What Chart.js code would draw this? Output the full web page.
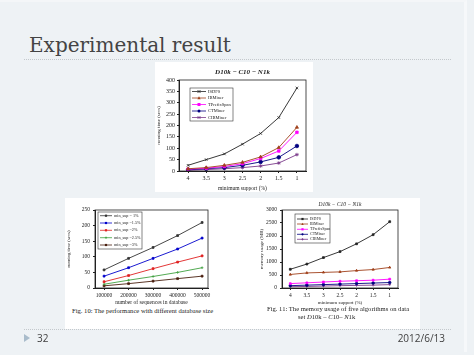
<!DOCTYPE html>
<html><head><meta charset="utf-8">
<script src="https://cdn.jsdelivr.net/npm/chart.js@4.4.1/dist/chart.umd.min.js"></script>
<style>
html,body{margin:0;padding:0}
body{width:474px;height:355px;background:#eef2f5;position:relative;overflow:hidden;font-family:'Liberation Serif',serif}
.abs{position:absolute}
#frame{left:0;top:0;width:467px;height:352px;border-top:2px solid #f4f6f8;border-right:3px solid #f6f8fa;box-sizing:border-box}
#title{left:29px;top:35px;font-family:'DejaVu Serif',serif;font-size:20px;line-height:20px;color:#444;white-space:nowrap}
.dots{height:0;border-top:1px dotted #c3c8cc}
.panel{background:#fff}
.cap{font-family:'Liberation Serif',serif;font-size:6.6px;line-height:7px;color:#222;white-space:nowrap}
.foot{font-family:'Open Sans','DejaVu Sans',sans-serif;font-size:10px;line-height:10px;color:#404040}
canvas{position:absolute}
</style></head><body>
<div id="frame" class="abs"></div>
<div id="title" class="abs">Experimental result</div>
<div class="abs dots" style="left:24px;top:59px;width:427px"></div>
<div class="abs panel" style="left:155px;top:62px;width:158px;height:130px"></div>
<div class="abs panel" style="left:65px;top:198px;width:355px;height:131px"></div>
<canvas id="c1" width="158" height="130" style="left:155px;top:62px"></canvas>
<canvas id="c2" width="160" height="108" style="left:65px;top:198px"></canvas>
<canvas id="c3" width="160" height="108" style="left:258px;top:198px"></canvas>
<div class="abs cap" style="left:72px;top:307px">Fig. 10: The performance with different database size</div>
<div class="abs cap" style="left:267px;top:305px">Fig. 11: The memory usage of five algorithms on data</div>
<div class="abs cap" style="left:298px;top:313px">set <i>D</i>10k &#8211; <i>C</i>10&#8211; <i>N</i>1k</div>
<div class="abs dots" style="left:24px;top:329px;width:427px"></div>
<div class="abs" style="left:24px;top:334px;width:0;height:0;border-top:4px solid transparent;border-bottom:4px solid transparent;border-left:6px solid #a9bccb"></div>
<div class="abs foot" style="left:37px;top:333px">32</div>
<div class="abs foot" style="left:380px;top:333px;width:65px;text-align:right">2012/6/13</div>
<script>
// ---- data ----
const algoNames = ['ISDFS','IBMiner','TPrefixSpan','CTMiner','CIBMiner'];
const supportLabels = ['4','3.5','3','2.5','2','1.5','1'];
const runISDFS = [25,50,75,118,165,235,365];
const runIBMiner = [10,15,25,38,62,103,192];
const runTPrefixSpan = [8,12,20,32,55,88,170];
const runCTMiner = [5,10,15,25,40,60,110];
const runCIBMiner = [3,6,10,15,22,35,72];

const dbSizes = [100000,200000,300000,400000,500000];
const minSupLabels = ['min_sup = 1%','min_sup =1.5%','min_sup =2%','min_sup =2.5%','min_sup =3%'];
const dbSup1 = [58,95,130,168,210];
const dbSup15 = [38,65,95,125,160];
const dbSup2 = [20,40,62,83,103];
const dbSup25 = [12,25,37,50,65];
const dbSup3 = [7,14,22,30,38];

const memISDFS = [720,920,1170,1400,1700,2050,2550];
const memIBMiner = [520,580,600,620,670,710,790];
const memTPrefixSpan = [170,200,230,260,280,300,340];
const memCTMiner = [90,110,130,150,170,190,210];
const memCIBMiner = [50,60,75,90,100,110,130];

const chartTitle = 'D10k \u2212 C10 \u2212 N1k';

// ---- styles ----
const FONT = "'Liberation Serif', serif";
const algoColors = ['#222222','#a0401a','#ff00ff','#000080','#7a3a8a'];
const algoPoints = ['crossRot','triangle','rect','circle','star'];
const supColors = ['#333333','#0000cc','#e02020','#40a040','#4a2010'];
const supPoints = ['rect','rect','rect','cross','rect'];

function drawMarker(ctx, style, x, y, r, color){
  ctx.save();
  ctx.strokeStyle = color; ctx.fillStyle = color; ctx.lineWidth = 0.8;
  ctx.beginPath();
  if(style==='circle'){ctx.arc(x,y,r,0,Math.PI*2);ctx.fill();}
  else if(style==='rect'){ctx.fillRect(x-r,y-r,2*r,2*r);}
  else if(style==='triangle'){ctx.moveTo(x,y-r*1.2);ctx.lineTo(x+r*1.1,y+r*0.8);ctx.lineTo(x-r*1.1,y+r*0.8);ctx.closePath();ctx.fill();}
  else if(style==='crossRot'){ctx.moveTo(x-r,y-r);ctx.lineTo(x+r,y+r);ctx.moveTo(x+r,y-r);ctx.lineTo(x-r,y+r);ctx.stroke();}
  else if(style==='cross'){ctx.moveTo(x-r,y);ctx.lineTo(x+r,y);ctx.moveTo(x,y-r);ctx.lineTo(x,y+r);ctx.stroke();}
  else if(style==='star'){ctx.moveTo(x-r,y-r);ctx.lineTo(x+r,y+r);ctx.moveTo(x+r,y-r);ctx.lineTo(x-r,y+r);ctx.moveTo(x-r,y);ctx.lineTo(x+r,y);ctx.stroke();}
  ctx.restore();
}

const framePlugin = {
  id:'frameBox',
  afterDatasetsDraw(chart){
    const a = chart.chartArea, ctx = chart.ctx;
    ctx.save(); ctx.strokeStyle = '#222'; ctx.lineWidth = 0.8;
    ctx.strokeRect(a.left, a.top, a.right-a.left, a.bottom-a.top);
    ctx.restore();
  }
};
const boxLegend = {
  id:'boxLegend',
  afterDraw(chart, args, o){
    if(!o || !o.display) return;
    const ctx = chart.ctx;
    ctx.save();
    ctx.fillStyle = '#fff';
    ctx.fillRect(o.x, o.y, o.w, o.h);
    ctx.strokeStyle = '#333'; ctx.lineWidth = 0.6;
    ctx.strokeRect(o.x, o.y, o.w, o.h);
    ctx.font = o.size + 'px ' + FONT;
    ctx.textBaseline = 'middle';
    chart.data.datasets.forEach((ds, i) => {
      const y = o.rowY[i];
      ctx.strokeStyle = ds.borderColor; ctx.lineWidth = 0.8;
      ctx.beginPath(); ctx.moveTo(o.lx0, y); ctx.lineTo(o.lx1, y); ctx.stroke();
      drawMarker(ctx, ds.pointStyle, (o.lx0+o.lx1)/2, y, o.mr, ds.borderColor);
      ctx.fillStyle = '#222';
      ctx.fillText(ds.label, o.tx, y);
    });
    ctx.restore();
  }
};
const topTitle = {
  id:'topTitle',
  afterDraw(chart, args, o){
    if(!o || !o.display) return;
    const ctx = chart.ctx, a = chart.chartArea;
    ctx.save();
    ctx.font = o.font; ctx.fillStyle = '#222';
    ctx.textAlign = 'center'; ctx.textBaseline = 'middle';
    ctx.fillText(o.text, (a.left+a.right)/2, o.y);
    ctx.restore();
  }
};

function axisTitle(text, size){
  return {display:true, text:text, color:'#222', font:{family:FONT, size:size}, padding:{top:1,bottom:0}};
}
function mkDatasets(names, arrays, colors, points, r){
  return arrays.map((d,i)=>({label:names[i], data:d, borderColor:colors[i], backgroundColor:colors[i],
    pointStyle:points[i], pointRadius:r, pointBorderWidth:0.8, borderWidth:0.9, tension:0}));
}
const plain = v => String(v);

// ---- chart 1 : running time ----
new Chart(document.getElementById('c1'), {
  type:'line',
  data:{labels:supportLabels, datasets:mkDatasets(algoNames,[runISDFS,runIBMiner,runTPrefixSpan,runCTMiner,runCIBMiner],algoColors,algoPoints,1.8)},
  options:{
    responsive:false, animation:false, devicePixelRatio:1,
    layout:{padding:{top:18,right:7,left:0,bottom:0}},
    plugins:{legend:{display:false}, tooltip:{enabled:false},
      boxLegend:{display:true,x:35,y:26,w:43,h:33,rowY:[29.5,36,42.5,49,55.5],lx0:37,lx1:51,tx:53,size:4.5,mr:1.5},
      topTitle:{display:true,text:chartTitle,font:"italic bold 7px "+FONT,y:10}},
    scales:{
      x:{type:'category', offset:true, grid:{display:true,drawOnChartArea:false,tickLength:2,color:'#222'},
        border:{color:'#222'}, ticks:{color:'#222',font:{family:FONT,size:6},padding:2,maxRotation:0},
        title:axisTitle('minimum support (%)',5.5), afterFit(s){s.height=21;}},
      y:{min:0,max:400, grid:{display:true,drawOnChartArea:false,tickLength:2,color:'#222'},
        border:{color:'#222'}, ticks:{stepSize:50,color:'#222',font:{family:FONT,size:6},padding:2,callback:plain},
        title:axisTitle('running time (secs)',5), afterFit(s){s.width=24;}}
    }
  },
  plugins:[framePlugin, boxLegend, topTitle]
});

// ---- chart 2 : database size ----
new Chart(document.getElementById('c2'), {
  type:'line',
  data:{datasets:mkDatasets(minSupLabels,[dbSup1,dbSup15,dbSup2,dbSup25,dbSup3].map(a=>a.map((v,i)=>({x:dbSizes[i],y:v}))),supColors,supPoints,1.3)},
  options:{
    responsive:false, animation:false, devicePixelRatio:1,
    layout:{padding:{top:12,right:17,left:0,bottom:0}},
    plugins:{legend:{display:false}, tooltip:{enabled:false},
      boxLegend:{display:true,x:33,y:14,w:44,h:37,rowY:[17.7,25,32.3,39.7,47],lx0:35,lx1:47,tx:49,size:4.2,mr:1.1}},
    scales:{
      x:{type:'linear', min:63000, max:524000, grid:{display:true,drawOnChartArea:false,tickLength:2,color:'#222'},
        border:{color:'#222'},
        afterBuildTicks(s){s.ticks = dbSizes.map(v=>({value:v}));},
        ticks:{color:'#222',font:{family:FONT,size:5.5},padding:2,maxRotation:0,callback:plain},
        title:axisTitle('number of sequences in database',5.5), afterFit(s){s.height=18;}},
      y:{min:0,max:250, grid:{display:true,drawOnChartArea:false,tickLength:2,color:'#222'},
        border:{color:'#222'}, ticks:{stepSize:50,color:'#222',font:{family:FONT,size:5.5},padding:3,callback:plain},
        title:axisTitle('running time (secs)',4.8), afterFit(s){s.width=30;}}
    }
  },
  plugins:[framePlugin, boxLegend]
});

// ---- chart 3 : memory usage ----
new Chart(document.getElementById('c3'), {
  type:'line',
  data:{labels:supportLabels, datasets:mkDatasets(algoNames,[memISDFS,memIBMiner,memTPrefixSpan,memCTMiner,memCIBMiner],algoColors,['rect','triangle','rect','circle','cross'],1.3)},
  options:{
    responsive:false, animation:false, devicePixelRatio:1,
    layout:{padding:{top:12,right:20,left:0,bottom:0}},
    plugins:{legend:{display:false}, tooltip:{enabled:false},
      boxLegend:{display:true,x:37,y:16,w:35,h:29,rowY:[21,26,31.3,36.3,41.3],lx0:39,lx1:50,tx:52,size:4,mr:1.1},
      topTitle:{display:true,text:chartTitle,font:"italic 5.5px "+FONT,y:7}},
    scales:{
      x:{type:'category', offset:true, grid:{display:true,drawOnChartArea:false,tickLength:2,color:'#222'},
        border:{color:'#222'}, ticks:{color:'#222',font:{family:FONT,size:5.5},padding:2,maxRotation:0},
        title:axisTitle('minimum support (%)',5), afterFit(s){s.height=18;}},
      y:{min:0,max:3000, grid:{display:true,drawOnChartArea:false,tickLength:2,color:'#222'},
        border:{color:'#222'}, ticks:{stepSize:500,color:'#222',font:{family:FONT,size:5.5},padding:3,callback:plain},
        title:axisTitle('memory usage (MB)',4.8), afterFit(s){s.width=24;}}
    }
  },
  plugins:[framePlugin, boxLegend, topTitle]
});
</script>
</body></html>
